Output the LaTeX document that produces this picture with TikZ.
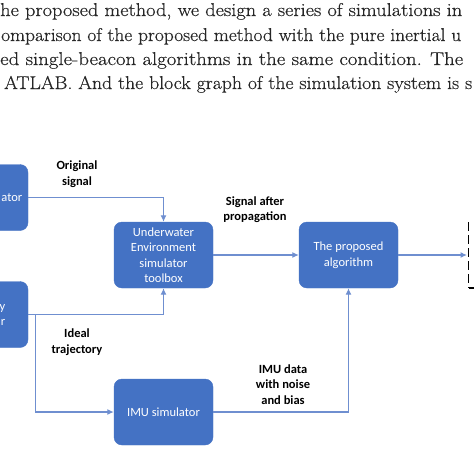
\documentclass[tikz,border=0pt]{standalone}
\usepackage{fontspec}
\usepackage{graphicx}
\newfontfamily\diagfont{Carlito}
\newfontfamily\bodyfont[FakeBold=0.45]{Latin Modern Roman}
\usetikzlibrary{arrows.meta,calc}
\definecolor{boxblue}{HTML}{4472C4}
\definecolor{arrblue}{HTML}{6F8FD0}
\newcommand\fitline[2]{\resizebox{#1}{\height}{\bodyfont\fontsize{18.5}{20}\selectfont #2}}
\tikzset{
  blk/.style={rounded corners=8pt, fill=boxblue, draw=boxblue, text=white,
    minimum width=99pt, minimum height=66pt, align=center, inner sep=0pt,
    font=\diagfont\fontsize{12.5}{15.5}\selectfont},
  frag/.style={text=white, align=right, inner sep=0pt,
    font=\diagfont\fontsize{12.5}{15.5}\selectfont},
  lbl/.style={align=center, inner sep=0pt,
    font=\diagfont\bfseries\fontsize{12.5}{15.5}\selectfont},
  arr/.style={draw=arrblue, line width=1.2pt, -{Latex[length=6.5pt,width=6pt]}},
  bodytext/.style={anchor=base west, inner sep=0pt, text=black!85},
  dashedge/.style={draw=black, line width=1.6pt, dash pattern=on 9pt off 4pt},
}
\begin{document}
\begin{tikzpicture}[x=1pt,y=-1pt]
\useasboundingbox (0,0) rectangle (474,474);
\clip (0,0) rectangle (474,474);
\fill[white] (0,0) rectangle (474,474);
% body text above the figure
\node[bodytext] (t1) at (0,16) {\fitline{462pt}{he proposed method, we design a series of simulations in}};
\node[bodytext] (t2) at (1,41) {\fitline{460pt}{omparison of the proposed method with the pure inertial u}};
\node[bodytext] (t3) at (0,65) {\fitline{463pt}{ed single-beacon algorithms in the same condition.  The}};
\node[bodytext] (t4) at (4,89) {\fitline{468pt}{ATLAB. And the block graph of the simulation system is s}};
% blocks
\node[blk] (b1) at (-21.5,197.5) {};
\node[frag, anchor=east] (b1t) at (22.5,197.5) {ator};
\node[blk] (b2) at (-21.5,314.5) {};
\node[frag, anchor=east] (b2t) at (5.5,315) {y\\r};
\node[blk] (uw) at (163.5,255) {Underwater\\Environment\\simulator\\toolbox};
\node[blk] (pa) at (348.5,255) {The proposed\\algorithm};
\node[blk] (imu) at (163.5,412) {IMU simulator};
% connectors
\coordinate (j) at ($(b2.east)+(7,0)$);
\coordinate (out) at (467,255);
\draw[arr] (b1.east) -| (uw.north);
\draw[arr] (b2.east) -| (uw.south);
\draw[arr] (j) |- (imu.west);
\draw[arr] (uw.east) -- (pa.west);
\draw[arr] (pa.east) -- (out);
\draw[arr] (imu.east) -| (pa.south);
% dashed frame edge at right
\coordinate (dtop) at (468.5,222);
\coordinate (dbot) at (468.5,288);
\coordinate (dend) at (476,288);
\draw[dashedge] (dtop) -- (dbot);
\draw[black, line width=1.6pt] (dbot) -- (dend);
% labels
\node[lbl] (l1) at (77,174) {Original\\signal};
\node[lbl] (l2) at (255,209.5) {Signal after\\propagation};
\node[lbl] (l3) at (77,342) {Ideal\\trajectory};
\node[lbl] (l4) at (283,384.5) {IMU data\\with noise\\and bias};
\end{tikzpicture}
\end{document}
